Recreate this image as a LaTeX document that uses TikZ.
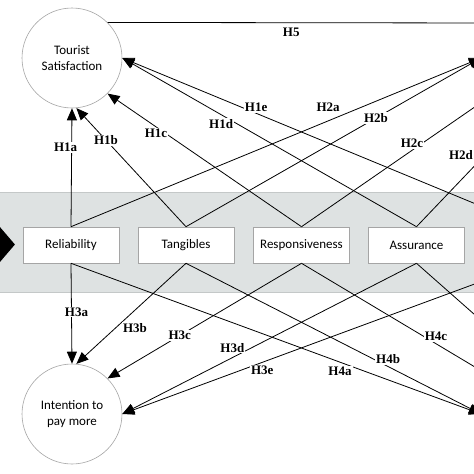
\documentclass[tikz,border=0pt]{standalone}
\usepackage{fontspec}
\setmainfont{Carlito}
\newfontfamily\hypfont{Liberation Serif}
\usetikzlibrary{arrows.meta,shapes.geometric}
\definecolor{bandgray}{RGB}{222,226,226}
\definecolor{bandline}{RGB}{196,200,200}
\definecolor{boxgray}{RGB}{165,165,165}
\begin{document}
\begin{tikzpicture}[x=1pt,y=-1pt]
        \tikzstyle{block} = [rectangle, text=black, text centered, draw=boxgray, fill=white, line width=.6, font=\fontsize{13}{16}\selectfont, minimum width=96pt, minimum height=36pt]
        \tikzstyle{construct} = [circle, text=black, align=center, draw=boxgray, fill=white, line width=.6, font=\fontsize{13}{16}\selectfont, minimum size=100pt, inner sep=0pt]
        \tikzstyle{line} = [-{Triangle[length=12pt,width=10pt]},draw=black,line width=.8]
        \tikzstyle{hyp} = [fill=white, inner sep=1pt, text=black, font=\hypfont\bfseries\fontsize{13}{15}\selectfont]
        \useasboundingbox (0,0) rectangle (474,474);
        \clip (0,0) rectangle (474,474);
        % grey band behind the dimensions
        \fill[bandgray] (0,192) rectangle (474,292);
        \draw[bandline, line width=.8] (0,192) -- (474,192);
        \draw[bandline, line width=.8] (0,292) -- (474,292);
        \node[diamond, fill=black, minimum width=36pt, minimum height=42pt, inner sep=0pt] (src) at (-3,244.5) {};
        \node[block] (rel) at (71,245) {Reliability};
        \node[block] (tan) at (186,245) {Tangibles};
        \node[block] (res) at (301.5,245) {Responsiveness};
        \node[block] (ass) at (416.5,245) {Assurance};
        \node[construct] (sat) at (72,58) {Tourist\\Satisfaction};
        \node[construct] (pay) at (72,414) {Intention to\\pay more};
        % ends beyond the right edge
        \coordinate (empn) at (531.5,227);
        \coordinate (emps) at (531.5,263);
        \coordinate (rtw) at (481,58);
        \coordinate (rtsw) at (495,93);
        \coordinate (rts) at (526,112);
        \coordinate (rtnw) at (496,23);
        \coordinate (rbw) at (481,414);
        \coordinate (rbnw) at (495,379);
        \coordinate (rbn) at (526,360);
        \draw[line] (sat.45) to node[hyp,pos=.473,yshift=-10pt] {H5} (rtnw);
        \draw[line] (rel.north) to node[hyp,pos=.67,xshift=-6pt] {H1a} (sat.south);
        \draw[line] (tan.north) to node[hyp,pos=.73] {H1b} (sat.-85);
        \draw[line] (res.north) to node[hyp,pos=.75,yshift=-6pt] {H1c} (sat.-45);
        \draw[line] (ass.north) to node[hyp,pos=.664,yshift=-9pt] {H1d} (sat.east);
        \draw[line] (empn) to node[hyp,pos=.673,yshift=6pt] {H1e} (sat.east);
        \draw[line] (rel.north) to node[hyp,pos=.627,yshift=14pt] {H2a} (rtw);
        \draw[line] (tan.north) to node[hyp,pos=.644] {H2b} (rtw);
        \draw[line] (res.north) to node[hyp,pos=.571,yshift=7pt] {H2c} (rtsw);
        \draw[line] (ass.north) to node[hyp,pos=.626,xshift=-24pt] {H2d} (rts);
        \draw[line] (rel.south) to node[hyp,pos=.485,xshift=5pt] {H3a} (pay.north);
        \draw[line] (tan.south) to node[hyp,pos=.639,xshift=19pt] {H3b} (pay.85);
        \draw[line] (res.south) to node[hyp,pos=.628] {H3c} (pay.45);
        \draw[line] (ass.south) to node[hyp,pos=.626,yshift=10pt] {H3d} (pay.east);
        \draw[line] (emps) to node[hyp,pos=.658,yshift=-8pt] {H3e} (pay.east);
        \draw[line] (rel.south) to node[hyp,pos=.656,yshift=-9pt] {H4a} (rbw);
        \draw[line] (tan.south) to node[hyp,pos=.685,yshift=7pt] {H4b} (rbw);
        \draw[line] (res.south) to node[hyp,pos=.695,yshift=7pt] {H4c} (rbnw);
        \draw[line] (ass.south) to (rbn);
\end{tikzpicture}
\end{document}
